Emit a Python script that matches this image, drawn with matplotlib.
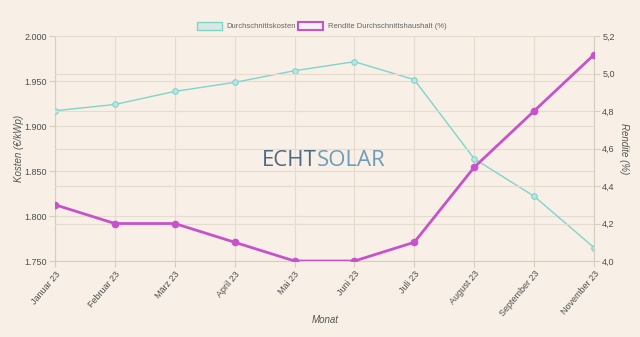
import matplotlib.pyplot as plt
import numpy as np

plt.rcParams['font.family'] = ['Liberation Sans', 'DejaVu Sans']

months = ['Januar 23', 'Februar 23', 'März 23', 'April 23', 'Mai 23', 'Juni 23',
          'Juli 23', 'August 23', 'September 23', 'November 23']
kosten = [1.917, 1.924, 1.9385, 1.9485, 1.9615, 1.9715, 1.9515, 1.8637, 1.822, 1.765]
rendite = [4.3, 4.2, 4.2, 4.1, 4.0, 4.0, 4.1, 4.5, 4.8, 5.1]

bg = '#f8f0e6'
teal = '#7fd4cc'
magenta = '#c852cc'
grid_c = '#e4dccf'
txt_c = '#4d4d4d'

fig = plt.figure(figsize=(6.4, 3.37), dpi=100, facecolor=bg)
ax = fig.add_axes([0.086, 0.2255, 0.842, 0.6675])
ax.set_facecolor(bg)
ax2 = ax.twinx()

x = np.arange(len(months))

# cost line (left axis)
ax.plot(x, kosten, color=teal, lw=1, marker='o', ms=4,
        mfc='#b8e6e0', mec=teal, mew=0.8, zorder=3)
ax.set_ylim(1.75, 2.0)
ax.set_yticks([1.75, 1.80, 1.85, 1.90, 1.95, 2.0])
ax.set_yticklabels(['1.750', '1.800', '1.850', '1.900', '1.950', '2.000'])
ax.set_xlim(0, len(months) - 1)
ax.set_xticks(x)
ax.set_xticklabels(months, rotation=50, ha='right', rotation_mode='anchor')
ax.grid(True, color=grid_c, lw=0.8)
ax.set_axisbelow(True)

# rendite line (right axis)
ax2.plot(x, rendite, color=magenta, lw=2, marker='o', ms=4.5,
         mfc=magenta, mec=magenta, zorder=4)
ax2.set_ylim(4.0, 5.2)
ax2.set_yticks([4.0, 4.2, 4.4, 4.6, 4.8, 5.0, 5.2])
ax2.set_yticklabels(['4,0', '4,2', '4,4', '4,6', '4,8', '5,0', '5,2'])
ax2.grid(True, axis='y', color=grid_c, lw=0.8)
ax2.set_axisbelow(True)

for a in (ax, ax2):
    for s in a.spines.values():
        s.set_visible(False)
    a.tick_params(colors=txt_c, labelsize=6.5, length=4, width=0.8, pad=2)
    a.tick_params(axis='both', color='#d5cdc0')
ax.spines['left'].set_visible(True)
ax.spines['left'].set_color('#d5cdc0')
ax.spines['bottom'].set_visible(True)
ax.spines['bottom'].set_color('#d5cdc0')
ax2.spines['right'].set_visible(True)
ax2.spines['right'].set_color('#d5cdc0')

ax.set_ylabel('Kosten (€/kWp)', fontsize=7, color='#555555', style='italic', labelpad=0)
ax2.set_ylabel('Rendite (%)', fontsize=7, color='#555555', style='italic',
               rotation=-90, labelpad=10)
fig.text(0.508, 0.05, 'Monat', ha='center', va='center', fontsize=7,
         color='#555555', style='italic')

# legend
lax = fig.add_axes([0, 0, 1, 1], facecolor='none')
lax.set_xlim(0, 640)
lax.set_ylim(337, 0)
lax.axis('off')
lax.add_patch(plt.Rectangle((197, 22), 25, 8, facecolor='#d7e9e0', edgecolor=teal, lw=1))
lax.text(226, 26, 'Durchschnittskosten', fontsize=5.5, color='#666666', va='center')
lax.add_patch(plt.Rectangle((298, 22), 25, 8, facecolor='#f8f0f0', edgecolor=magenta, lw=1.5))
lax.text(328, 26, 'Rendite Durchschnittshaushalt (%)', fontsize=5.5, color='#666666', va='center')

# watermark logo
lax.text(317, 160, 'ECHT', fontsize=16, color='#4d6a85', ha='right', va='center',
         family='Open Sans')
lax.text(317, 160, 'SOLAR', fontsize=16, color='#6d9bbb', ha='left', va='center',
         family='Open Sans')

fig.savefig('out.png', dpi=100, facecolor=bg)
